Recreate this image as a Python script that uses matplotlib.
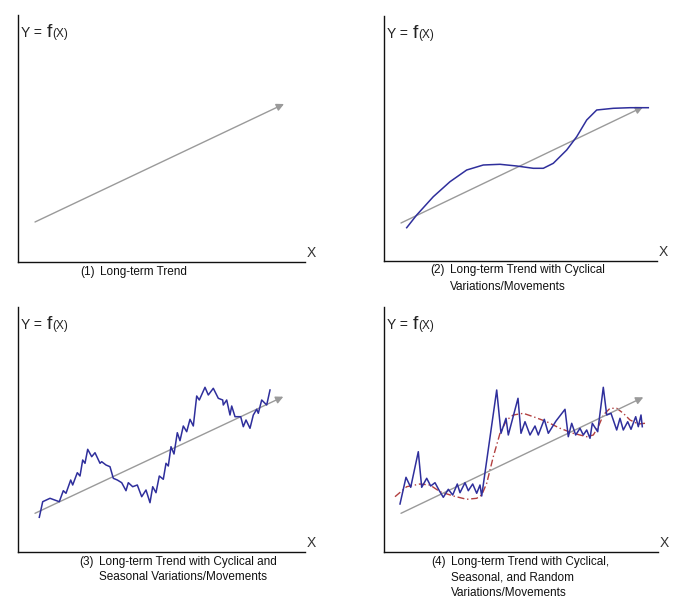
import numpy as np
import matplotlib
matplotlib.use("Agg")
from matplotlib import pyplot as plt

plt.rcParams['font.family'] = ['Liberation Sans', 'DejaVu Sans']

# values are in pixels, measured from the corner where the two axis lines meet
W, H = 681, 610

# panel boxes: left, bottom, width, height (image pixels)
panel_boxes = [
    (18, 262, 287, 247),
    (384, 261, 273, 245),
    (18, 552, 287, 245),
    (384, 552, 274, 245),
]

captions = [
    ["Long-term Trend"],
    ["Long-term Trend with Cyclical", "Variations/Movements"],
    ["Long-term Trend with Cyclical and", "Seasonal Variations/Movements"],
    ["Long-term Trend with Cyclical,", "Seasonal, and Random", "Variations/Movements"],
]
caption_x = [62, 46, 61, 47]

# trend arrows (start, end)
trend_start = [(17, 40), (17, 38), (17, 38.7), (17, 38.7)]
trend_end = [(266, 158), (259, 154), (265.3, 155.3), (259.3, 154.7)]

# (2) cyclical curve
cyc_x = [22.7, 32.7, 49.3, 66, 82.7, 99.3, 116, 132.7, 149.3, 159.3, 169.3,
         182.7, 192.7, 202.7, 212.7, 229.3, 246, 264.3]
cyc_y = [33.3, 46, 64.3, 79.3, 91, 96, 96.7, 95, 92.7, 92.7, 97.7,
         111, 124.3, 141, 151, 152.7, 153.3, 153.3]

# (3) cyclical + seasonal
seas_x = [21.3, 24.7, 32, 41.3, 45.3, 48, 52.7, 54.7, 59.3, 62, 64.7, 67, 69.7,
          73.7, 77, 82, 83.7, 88, 92, 95.3, 99.3, 103.7, 108, 110.3, 114.7,
          119.3, 123.7, 128, 132, 134.7, 138, 141.3, 145.3, 148, 150.3, 153,
          156, 159.3, 162, 165.3, 168.7, 172, 175.3, 178.7, 181.3, 187, 190.3,
          195.3, 200.3, 204.7, 205.3, 208.7, 212, 213.7, 217, 222.7, 225.3,
          228, 232, 235.3, 238.7, 240.3, 243.7, 248.7, 252]
seas_y = [34.7, 50.3, 53.7, 50.3, 61.3, 58.7, 72, 67, 79.3, 76, 92, 88.7, 102.7,
          95.3, 99.3, 88.7, 90.3, 87, 85.3, 73.7, 72, 69.3, 61.3, 69.3, 65.3,
          67, 55.3, 62, 49.3, 65.3, 59.3, 76, 72.7, 88.7, 86, 105.3,
          98, 119.3, 111.3, 126, 120.3, 132.7, 126, 156, 152, 164.7, 157,
          163.7, 153.7, 152, 147, 152, 137, 146, 135.3, 135.3, 125.3,
          132, 123.7, 137, 142.7, 138.7, 152, 147, 162]

# (4) cyclical + seasonal + random
rand_x = [16, 22, 26.7, 34.3, 37.7, 42.7, 46.7, 51, 55.3, 59.3, 64.3, 68.7,
          73.3, 76, 81, 84.3, 88.7, 92.7, 96, 97.7, 112.7, 117, 122, 124.3,
          134, 137, 141, 146, 151, 154.3, 160.3, 164.3, 172, 181, 184.3,
          187.7, 191.7, 196, 199.3, 202.7, 206, 208.3, 213.7, 219.3, 222.7,
          227, 232.7, 236, 239.3, 243.7, 247, 251.7, 254.3, 257, 258.3]
rand_y = [48, 74.7, 64.7, 100.3, 64.7, 73.7, 66, 69.3, 61.3, 54.7, 62.7, 57,
          68, 59.3, 69.3, 61.3, 68, 58.7, 67, 56, 162, 118.7, 133.7, 117,
          153.7, 118.7, 130.3, 117, 126, 117, 132.7, 118.7, 131, 142.7, 115.3,
          128.7, 117, 123.7, 117, 122, 113.7, 128.7, 120.3, 164.7, 137,
          138.7, 122, 133.7, 122, 130.3, 122.7, 135.3, 125.3, 137, 125.3]

# (4) dash-dot cyclical component
comp_x = [11, 22.7, 36, 46, 56, 69.3, 82.7, 92.7, 97.7, 102.7, 109.3, 116,
          122.7, 129.3, 139.3, 149.3, 162.7, 176, 189.3, 202.7, 209.3, 214.3,
          219.3, 226, 232.7, 239.3, 246, 254.3, 261]
comp_y = [55.3, 65.3, 68, 67, 60.3, 56, 52.7, 53.7, 57, 68.7, 95.3, 118.7,
          132, 137, 138.7, 135.3, 130.3, 123.7, 118.7, 115.3, 117, 125.3,
          137, 143.7, 143.7, 138.7, 132, 128, 128.7]

blue = '#2f2f9c'
grey = '#9a9a9a'

fig = plt.figure(figsize=(W / 100, H / 100), dpi=100)
axes = []
for (left, bottom, w, h) in panel_boxes:
    ax = fig.add_axes([left / W, 1 - bottom / H, w / W, h / H])
    ax.set_xlim(0, w)
    ax.set_ylim(0, h)
    for s in ['top', 'right']:
        ax.spines[s].set_visible(False)
    for s in ['left', 'bottom']:
        ax.spines[s].set_linewidth(1.0)
        ax.spines[s].set_color('#111111')
    ax.set_xticks([])
    ax.set_yticks([])
    ax.patch.set_alpha(0)
    axes.append(ax)

for i, ax in enumerate(axes):
    w, h = panel_boxes[i][2], panel_boxes[i][3]
    # Y = f(X)
    ax.text(3, h - 22, "Y = ", fontsize=10, va='baseline', ha='left', color='#222222', clip_on=False)
    ax.text(28.5, h - 22, "f", fontsize=14, va='baseline', ha='left', color='#222222', clip_on=False)
    ax.text(34, h - 22, "(X)", fontsize=8.5, va='baseline', ha='left', color='#222222', clip_on=False)
    # X label
    ax.text(w + 6, 9, "X", fontsize=10, va='center', ha='center', color='#333333', clip_on=False)
    # caption
    cx = caption_x[i]
    ax.text(cx, -12.5, "(%d)" % (i + 1), fontsize=8.5, va='baseline', ha='left', color='#111111', clip_on=False)
    for k, line in enumerate(captions[i]):
        ax.text(cx + 20, -12.5 - 16 * k, line, fontsize=8.5, va='baseline', ha='left',
                color='#111111', clip_on=False)

# curves first, then arrows on top in panel 2 like the picture
axes[1].plot(cyc_x, cyc_y, color=blue, lw=1.1, zorder=3)
axes[2].plot(seas_x, seas_y, color=blue, lw=1.1, zorder=3)
axes[3].plot(comp_x, comp_y, color='#b24040', lw=1.0, ls=(0, (5, 2, 1, 2)), zorder=2)
axes[3].plot(rand_x, rand_y, color=blue, lw=1.1, zorder=3)

for i, ax in enumerate(axes):
    ax.annotate('', xy=trend_end[i], xytext=trend_start[i],
                arrowprops=dict(arrowstyle='-|>', color=grey, lw=1.0,
                                mutation_scale=11, shrinkA=0, shrinkB=0),
                zorder=2)

fig.savefig("out.png", dpi=100)
